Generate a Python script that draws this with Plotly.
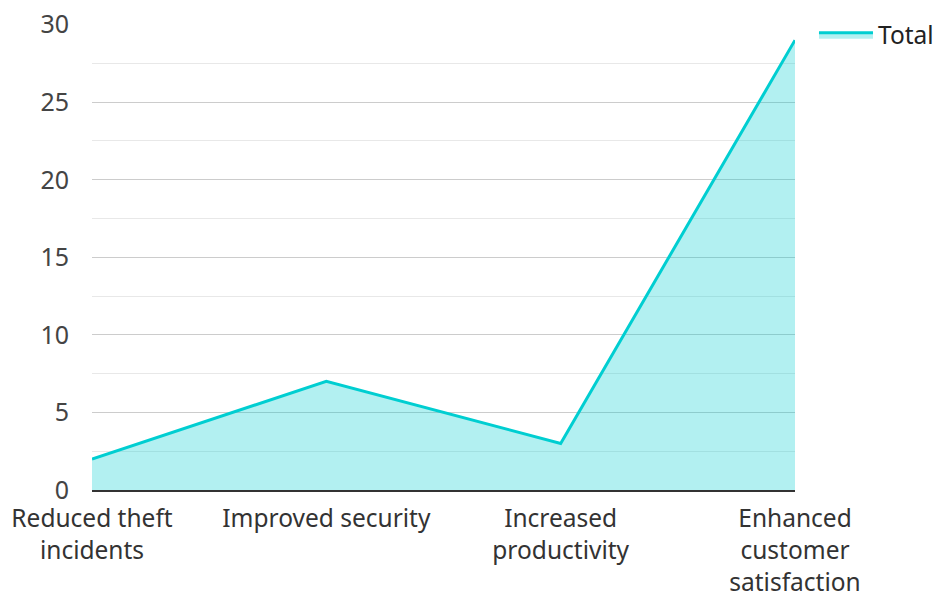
import plotly.graph_objects as go

categories = ["Reduced theft<br>incidents", "Improved security", "Increased<br>productivity",
              "Enhanced<br>customer<br>satisfaction"]
totals = [2, 7, 3, 29]
series_name = "Total"
y_ticks = [0, 5, 10, 15, 20, 25, 30]

fig = go.Figure()
fig.add_trace(go.Scatter(
    x=list(range(len(categories))), y=totals, name=series_name,
    mode="lines", fill="tozeroy",
    line=dict(color="#00CED1", width=3),
    fillcolor="rgba(0,206,209,0.3)",
))

fig.update_layout(
    width=935, height=594,
    margin=dict(l=92, r=140, t=24, b=104, autoexpand=False),
    paper_bgcolor="white", plot_bgcolor="white",
    font=dict(family="Noto Sans", size=24, color="#333333"),
    showlegend=True,
    legend=dict(x=1.027, y=1.025, xanchor="left", yanchor="top", itemwidth=54,
                font=dict(size=24.5, color="#222222"), bgcolor="rgba(0,0,0,0)"),
    xaxis=dict(
        tickmode="array", tickvals=list(range(len(categories))), ticktext=categories,
        range=[0, len(categories) - 1], showgrid=False, zeroline=False,
        showline=True, linecolor="#333333", linewidth=2, ticks="",
        tickfont=dict(size=24.5, color="#333333"), ticklabelstandoff=6,
        ticklabeloverflow="allow",
    ),
    yaxis=dict(
        range=[0, 30.04], tickvals=y_ticks, showgrid=True, gridcolor="#cccccc", gridwidth=1,
        zeroline=False, showline=False, ticks="",
        tickfont=dict(size=25, color="#444444"), ticklabelstandoff=22,
        ticklabeloverflow="allow",
        minor=dict(dtick=2.5, showgrid=True, gridcolor="#e8e8e8", gridwidth=1),
    ),
)

fig.write_html(
    "out.html",
    config={"displayModeBar": False},
    post_script="document.body.style.margin='0';document.body.style.overflow='hidden';",
)
